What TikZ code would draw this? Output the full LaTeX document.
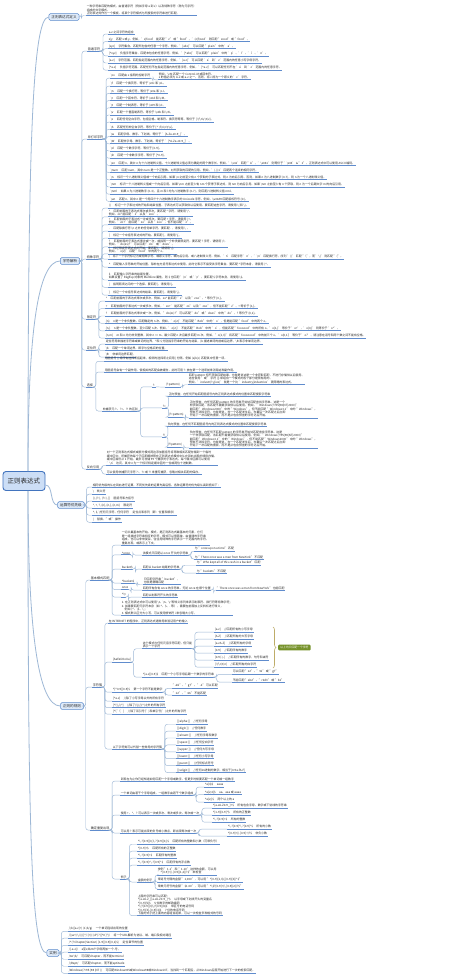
\documentclass[tikz,border=0pt]{standalone}
\usepackage{fontspec}
\setmainfont{Noto Sans CJK SC}
\usetikzlibrary{decorations.pathreplacing}

\definecolor{brcol}{RGB}{158,184,214}
\definecolor{ulcol}{RGB}{96,140,205}
\definecolor{tcol}{RGB}{40,40,40}
\definecolor{topfill}{RGB}{222,234,249}
\definecolor{topline}{RGB}{92,138,204}
\definecolor{rootfill}{RGB}{204,222,246}
\definecolor{rootline}{RGB}{66,116,190}
\definecolor{tagfill}{RGB}{118,146,42}
\definecolor{bracecol}{RGB}{190,172,104}

\newcommand\bs{\textbackslash}
\newcommand\ct{\textasciicircum}

\tikzset{
  branch/.style={draw=brcol, line width=0.45pt},
  elbow/.style={branch, rounded corners=2.5pt},
  trunk/.style={draw=brcol, line width=0.8pt},
  uline/.style={draw=ulcol, line width=0.65pt},
  leaf/.style={anchor=west, align=left, text=tcol, inner xsep=0.6pt, inner ysep=0.5pt,
    font=\fontsize{2.9}{3.4}\selectfont,
    append after command={(\tikzlastnode.south west) edge[uline] (\tikzlastnode.south east)}},
  sub/.style={leaf, font=\fontsize{3.1}{3.7}\selectfont},
  topic/.style={draw=topline, fill=topfill, line width=0.5pt, rounded corners=1.5pt,
    text=tcol, inner xsep=2.5pt, inner ysep=1.8pt, font=\fontsize{3.6}{4.2}\selectfont},
  rootbox/.style={draw=rootline, fill=rootfill, line width=0.9pt, rounded corners=3pt,
    text=tcol, minimum width=42pt, minimum height=19pt, font=\fontsize{6.5}{7.5}\selectfont},
  tag/.style={fill=tagfill, text=white, rounded corners=1pt, inner xsep=2.2pt, inner ysep=1.6pt,
    font=\fontsize{2.8}{3.3}\selectfont},
}

\begin{document}
\begin{tikzpicture}[x=1pt, y=1pt]
  % Page
  \fill[white] (0,0) rectangle (474,-978);
  \useasboundingbox (0,0) rectangle (474,-978);

  % Root and main topics
  \node[rootbox] (root) at (24,-481) {正则表达式};
  \node[topic] (def) at (64,-17) {正则表达式定义};
  \node[topic] (parse) at (70,-261) {字符解析};
  \node[topic] (prio) at (71,-505) {运算符优先级};
  \node[topic] (rules) at (72,-706) {正则的规则};
  \node[topic] (ex) at (53,-953) {实例};

  % Trunk lines
  \draw[trunk] ([xshift=4pt]root.north) .. controls +(0,330) and +(-16,0) .. (def.west);
  \draw[trunk] ([xshift=4pt]root.north) .. controls +(0,140) and +(-22,0) .. (parse.west);
  \draw[trunk] ([yshift=-4pt]root.east) .. controls +(8,0) and +(-8,0) .. (prio.west);
  \draw[trunk] ([xshift=4pt]root.south) .. controls +(0,-140) and +(-22,0) .. (rules.west);
  \draw[trunk] ([xshift=4pt]root.south) .. controls +(0,-330) and +(-16,0) .. (ex.west);

  % Definition
  \node[leaf] (defs) at (86,-10) {一种字符串匹配的模式，由普通字符（例如字母 a 到 z）以及特殊字符（称为元字符）\\组成的文字模式。\\正则表达式作为一个模板，将某个字符模式与所搜索的字符串进行匹配。};
  \draw[elbow] (def.east) -- ++(2,0) |- (defs.south west);

  % Character parsing
  \node[sub] (pc) at (87,-49) {普通字符};
  \node[sub] (np) at (87,-137) {非打印字符};
  \node[sub] (sc) at (86,-257) {特殊字符};
  \node[sub] (qu) at (86,-317) {限定符};
  \node[sub] (lo) at (86,-348) {定位符};
  \node[sub] (ch) at (86,-385) {选择};
  \node[sub] (br) at (86,-467) {反向引用};
  \foreach \n in {pc,np,sc,qu,lo,ch,br}
    \draw[elbow] (parse.east) -- ++(2,0) |- (\n.south west);

  % Plain characters
  \foreach \txt [count=\i] in {
    {a-z 之间字符的组合},
    {x|y \quad 匹配 x 或 y。例如，'z|food' 能匹配 "z" 或 "food"。'(z|f)ood' 则匹配 "zood" 或 "food"。},
    {[xyz] \quad 字符集合。匹配所包含的任意一个字符。例如，'[abc]' 可以匹配 "plain" 中的 'a'。},
    {[\ct xyz] \quad 负值字符集合。匹配未包含的任意字符。例如，'[\ct abc]' 可以匹配 "plain" 中的 'p'、'l'、'i'、'n'。},
    {[a-z] \quad 字符范围。匹配指定范围内的任意字符。例如，'[a-z]' 可以匹配 'a' 到 'z' 范围内的任意小写字母字符。},
    {[\ct a-z] \quad 负值字符范围。匹配任何不在指定范围内的任意字符。例如，'[\ct a-z]' 可以匹配任何不在 'a' 到 'z' 范围内的任意字符。}} {
    \node[leaf] (pc\i) at (108,{-32-7.2*(\i-1)}) {\txt};
    \draw[elbow] (pc.south east) -- ++(2,0) |- (pc\i.south west);
  }

  % Non-printing characters
  \node[leaf] (np0) at (110,-76) {\bs cx \quad 匹配由 x 指明的控制字符};
  \node[leaf] (np0d) at (158,-76) {例如，\bs cM 匹配一个 Control-M 或回车符。\\x 的值必须为 A-Z 或 a-z 之一。否则，将 c 视为一个原义的 'c' 字符。};
  \draw[elbow] (np.south east) -- ++(2,0) |- (np0.south west);
  \draw[elbow] (np0.south east) -- ++(2,0) |- (np0d.south west);
  \foreach \txt [count=\i] in {
    {\bs f \quad 匹配一个换页符。等价于 \bs x0c 和 \bs cL。},
    {\bs n \quad 匹配一个换行符。等价于 \bs x0a 和 \bs cJ。},
    {\bs r \quad 匹配一个回车符。等价于 \bs x0d 和 \bs cM。},
    {\bs t \quad 匹配一个制表符。等价于 \bs x09 和 \bs cI。},
    {\bs v \quad 匹配一个垂直制表符。等价于 \bs x0b 和 \bs cK。},
    {\bs s \quad 匹配任何空白字符，包括空格、制表符、换页符等等。等价于 [ \bs f\bs n\bs r\bs t\bs v]。},
    {\bs S \quad 匹配任何非空白字符。等价于 [\ct\ \bs f\bs n\bs r\bs t\bs v]。},
    {\bs w \quad 匹配字母、数字、下划线。等价于 '[A-Za-z0-9\_]'。},
    {\bs W \quad 匹配非字母、数字、下划线。等价于 '[\ct A-Za-z0-9\_]'。},
    {\bs d \quad 匹配一个数字字符。等价于 [0-9]。},
    {\bs D \quad 匹配一个非数字字符。等价于 [\ct 0-9]。},
    {\bs xn \quad 匹配 n，其中 n 为十六进制转义值。十六进制转义值必须为确定的两个数字长。例如，'\bs x41' 匹配 "A"。'\bs x041' 则等价于 '\bs x04' \& "1"。正则表达式中可以使用 ASCII 编码。},
    {\bs num \quad 匹配 num，其中 num 是一个正整数。对所获取的匹配的引用。例如，'(.)\bs 1' 匹配两个连续的相同字符。},
    {\bs n \quad 标识一个八进制转义值或一个向后引用。如果 \bs n 之前至少有 n 个获取的子表达式，则 n 为向后引用。否则，如果 n 为八进制数字 (0-7)，则 n 为一个八进制转义值。},
    {\bs nm \quad 标识一个八进制转义值或一个向后引用。如果 \bs nm 之前至少有 nm 个获得子表达式，则 nm 为向后引用。如果 \bs nm 之前至少有 n 个获取，则 n 为一个后跟文字 m 的向后引用。},
    {\bs nml \quad 如果 n 为八进制数字 (0-3)，且 m 和 l 均为八进制数字 (0-7)，则匹配八进制转义值 nml。},
    {\bs un \quad 匹配 n，其中 n 是一个用四个十六进制数字表示的 Unicode 字符。例如，\bs u00A9 匹配版权符号 (©)。}} {
    \node[leaf] (np\i) at (110,{-84-7.2*(\i-1)}) {\txt};
    \draw[elbow] (np.south east) -- ++(2,0) |- (np\i.south west);
  }

  % Special characters
  \foreach \i/\y/\txt in {
    1/206/{( ) \quad 标记一个子表达式的开始和结束位置。子表达式可以获取供以后使用。要匹配这些字符，请使用 \bs( 和 \bs)。},
    2/213/{* \quad 匹配前面的子表达式零次或多次。要匹配 * 字符，请使用 \bs*。\\例如，zo* 能匹配 "z" 以及 "zoo"。},
    3/221/{+ \quad 匹配前面的子表达式一次或多次。要匹配 + 字符，请使用 \bs+。\\例如，'zo+' 能匹配 "zo" 以及 "zoo"，但不能匹配 "z"。},
    4/229/{. \quad 匹配除换行符 \bs n 之外的任何单字符。要匹配 . ，请使用 \bs. 。},
    5/236/{[ \quad 标记一个中括号表达式的开始。要匹配 [，请使用 \bs[。},
    6/243/{? \quad 匹配前面的子表达式零次或一次，或指明一个非贪婪限定符。要匹配 ? 字符，请使用 \bs?。\\例如，"do(es)?" 可以匹配 "do" 或 "does"。},
    7/250/{\{ \quad 标记限定符表达式的开始。要匹配 \{，请使用 \bs\{。\\例如，'o\{2\}' 匹配 "food" 中的两个 o。},
    8/257/{\bs \quad 将下一个字符标记为或特殊字符、或原义字符、或向后引用、或八进制转义符。例如，'n' 匹配字符 'n'，'\bs n' 匹配换行符，序列 '\bs\bs' 匹配 "\bs"，而 '\bs(' 则匹配 "("。},
    9/265/{\ct \quad 匹配输入字符串的开始位置，除非在方括号表达式中使用，此时它表示不接受该字符集合。要匹配 \ct 字符本身，请使用 \bs\ct。},
    10/276/{\$ \quad 匹配输入字符串的结尾位置。\\如果设置了 RegExp 对象的 Multiline 属性，则 \$ 也匹配 '\bs n' 或 '\bs r'。要匹配 \$ 字符本身，请使用 \bs\$。},
    11/285/{| \quad 指明两项之间的一个选择。要匹配 |，请使用 \bs|。},
    12/293/{] \quad 标记一个中括号表达式的结束。要匹配 ]，请使用 \bs]。}} {
    \node[leaf] (sc\i) at (108,-\y) {\txt};
    \draw[elbow] (sc.south east) -- ++(2,0) |- (sc\i.south west);
  }

  % Quantifiers
  \foreach \txt [count=\i] in {
    {* \quad 匹配前面的子表达式零次或多次。例如，zo* 能匹配 "z" 以及 "zoo"。* 等价于 \{0,\}。},
    {+ \quad 匹配前面的子表达式一次或多次。例如，'zo+' 能匹配 "zo" 以及 "zoo"，但不能匹配 "z"。+ 等价于 \{1,\}。},
    {? \quad 匹配前面的子表达式零次或一次。例如，"do(es)?" 可以匹配 "do" 或 "does" 中的 "do"。? 等价于 \{0,1\}。},
    {\{n\} \quad n 是一个非负整数。匹配确定的 n 次。例如，'o\{2\}' 不能匹配 "Bob" 中的 'o'，但是能匹配 "food" 中的两个 o。},
    {\{n,\} \quad n 是一个非负整数。至少匹配 n 次。例如，'o\{2,\}' 不能匹配 "Bob" 中的 'o'，但能匹配 "foooood" 中的所有 o。'o\{1,\}' 等价于 'o+'，'o\{0,\}' 则等价于 'o*'。},
    {\{n,m\} \quad m 和 n 均为非负整数，其中 n <= m。最少匹配 n 次且最多匹配 m 次。例如，"o\{1,3\}" 将匹配 "fooooood" 中的前三个 o。'o\{0,1\}' 等价于 'o?'。请注意在逗号和两个数之间不能有空格。}} {
    \node[leaf] (qu\i) at (105,{-299-7.4*(\i-1)}) {\txt};
    \draw[elbow] (qu.south east) -- ++(2,0) |- (qu\i.south west);
  }

  % Anchors
  \foreach \txt [count=\i] in {
    {定位符用来描述字符串或单词的边界，\ct 和 \$ 分别指字符串的开始与结束，\bs b 描述单词的前或后边界，\bs B 表示非单词边界。},
    {\bs b \quad 匹配一个单词边界，即字与空格间的位置。},
    {\bs B \quad 非单词边界匹配。}} {
    \node[leaf] (lo\i) at (105,{-342-6.5*(\i-1)}) {\txt};
    \draw[elbow] (lo.south east) -- ++(2,0) |- (lo\i.south west);
  }

  % Alternation
  \node[leaf] (ch1) at (104,-359) {用圆括号 () 将所有选择项括起来，相邻的选择项之间用 | 分隔，例如 (a|b|c) 匹配其中任意一项。};
  \node[leaf] (ch2) at (104,-370) {用圆括号会有一个副作用，使相关的匹配会被缓存，此时可用 ?: 放在第一个选项前来消除这种副作用。};
  \node[leaf] (nc) at (102,-409) {非捕获元 ?:、?=、?! 的区别};
  \foreach \n in {ch1,ch2,nc}
    \draw[elbow] (ch.south east) -- ++(2,0) |- (\n.south west);

  \node[leaf] (nc1) at (152,-385) {?:};
  \node[leaf] (nc2) at (162,-406) {?=};
  \node[leaf] (nc3) at (162,-435) {?!};
  \foreach \n in {nc1,nc2,nc3}
    \draw[elbow] (nc.south east) -- ++(2,0) |- (\n.south west);

  \node[leaf] (nc1p) at (165,-385) {(?:pattern)};
  \node[leaf] (nc1d) at (188,-379) {匹配 pattern 但不获取匹配结果，也就是说这是一个非获取匹配，不进行存储供以后使用。\\这在使用 "或" 字符 (|) 来组合一个模式的各个部分是很有用的。\\例如，'industr(?:y|ies)' 就是一个比 'industry|industries' 更简略的表达式。};
  \draw[elbow] (nc1.south east) -- (nc1p.south west);
  \draw[elbow] (nc1p.south east) -- ++(2,0) |- (nc1d.south west);

  \node[leaf] (nc2a) at (168,-394) {正向预查，在任何开始匹配圆括号内的正则表达式模式的位置来匹配搜索字符串};
  \node[leaf] (nc2p) at (168,-415) {(?=pattern)};
  \node[leaf] (nc2d) at (189,-409) {正向预查，在任何匹配 pattern 的字符串开始处匹配查找字符串。这是一个\\非获取匹配，该匹配不需要获取供以后使用。例如，"Windows(?=95|98|NT|2000)"\\能匹配 "Windows2000" 中的 "Windows"，但不能匹配 "Windows3.1" 中的 "Windows"。\\预查不消耗字符，也就是说，在一个匹配发生后，在最后一次匹配之后立即\\开始下一次匹配的搜索，而不是从包含预查的字符之后开始。};
  \foreach \n in {nc2a,nc2p}
    \draw[elbow] (nc2.south east) -- ++(2,0) |- (\n.south west);
  \draw[elbow] (nc2p.south east) -- ++(1,0) |- (nc2d.south west);

  \node[leaf] (nc3a) at (167,-424) {负向预查，在任何不匹配圆括号内的正则表达式模式的位置来匹配搜索字符串};
  \node[leaf] (nc3p) at (167,-445) {(?!pattern)};
  \node[leaf] (nc3d) at (189,-439) {负向预查，在任何不匹配 pattern 的字符串开始处匹配查找字符串。这是\\一个非获取匹配，该匹配不需要获取供以后使用。例如，"Windows(?!95|98|NT|2000)"\\能匹配 "Windows3.1" 中的 "Windows"，但不能匹配 "Windows2000" 中的 "Windows"。\\预查不消耗字符，也就是说，在一个匹配发生后，在最后一次匹配之后立即\\开始下一次匹配的搜索，而不是从包含预查的字符之后开始。};
  \foreach \n in {nc3a,nc3p}
    \draw[elbow] (nc3.south east) -- ++(2,0) |- (\n.south west);
  \draw[elbow] (nc3p.south east) -- ++(1,0) |- (nc3d.south west);

  % Back references
  \node[leaf] (br1) at (106,-458) {对一个正则表达式模式或部分模式两边添加圆括号将导致相关匹配存储到一个临时\\缓冲区中，所捕获的每个子匹配都按照在正则表达式模式中从左到右出现的顺序存储。\\缓冲区编号从 1 开始，最多可存储 99 个捕获的子表达式。每个缓冲区都可以使用\\'\bs n' 访问，其中 n 为一个标识特定缓冲区的一位或两位十进制数。};
  \node[leaf] (br2) at (106,-472) {可以使用非捕获元字符 ?:、?= 或 ?! 来重写捕获，忽略对相关匹配的保存。};
  \foreach \n in {br1,br2}
    \draw[elbow] (br.south east) -- ++(2,0) |- (\n.south west);

  % Operator precedence
  \foreach \txt [count=\i] in {
    {相同优先级的从左到右进行运算，不同优先级的运算先高后低。各种运算符的优先级从高到低如下：},
    {\bs \quad 转义符},
    {(), (?:), (?=), [] \quad 圆括号和方括号},
    {*, +, ?, \{n\}, \{n,\}, \{n,m\} \quad 限定符},
    {\ct, \$, \bs 任何元字符、任何字符 \quad 定位点和序列（即：位置和顺序）},
    {| \quad 替换，"或" 操作}} {
    \node[leaf] (pr\i) at (92,{-485-7*(\i-1)}) {\txt};
    \draw[elbow] (prio.east) -- ++(2,0) |- (pr\i.south west);
  }

  % Rules
  \node[sub] (bm) at (90,-578) {基本模式匹配};
  \node[sub] (cc) at (92,-685) {字符簇};
  \node[sub] (rp) at (90,-828) {确定重复出现};
  \foreach \n in {bm,cc,rp}
    \draw[elbow] (rules.east) -- ++(2,0) |- (\n.south west);

  % Basic patterns
  \node[leaf] (bm0) at (121,-538) {一切从最基本的开始。模式，是正则表达式最基本的元素，它们\\是一组描述字符串特征的字符。模式可以很简单，由普通的字符串\\组成，也可以非常复杂，往往用特殊的字符表示一个范围内的字符、\\重复出现，或表示上下文。};
  \node[leaf] (bm1) at (121,-553) {\ct once};
  \node[leaf] (bm1d) at (142,-553) {该模式只匹配以 once 开头的字符串};
  \node[leaf] (bm1a) at (194,-549) {与 "once upon a time" 匹配};
  \node[leaf] (bm1b) at (194,-557) {与 "There once was a man from NewYork" 不匹配};
  \node[leaf] (bm2) at (121,-567) {bucket\$};
  \node[leaf] (bm2d) at (142,-567) {匹配以 bucket 结尾的字符串};
  \node[leaf] (bm2a) at (196,-563) {与 "Who kept all of this cash in a bucket" 匹配};
  \node[leaf] (bm2b) at (196,-571) {与 "buckets" 不匹配};
  \node[leaf] (bm3) at (121,-581) {\ct bucket\$};
  \node[leaf] (bm3d) at (143,-581) {只匹配字符串 "bucket"，\\也就是精确匹配};
  \node[leaf] (bm4) at (121,-588) {once};
  \node[leaf] (bm4d) at (142,-588) {匹配所有含有 once 的字符串，无论 once 在哪个位置};
  \node[leaf] (bm4a) at (216,-588) {"There once was a man from NewYork" 也能匹配};
  \node[leaf] (bm5) at (121,-595) {\ct\bs t};
  \node[leaf] (bm5d) at (142,-595) {匹配以制表符开头的字符串};
  \node[leaf] (bm6) at (121,-608) {1. 在正则表达式中可以使用 \bs t、\bs n、\bs r 等转义序列来表示制表符、换行符等特殊字符；\\2. 如果要匹配元字符本身（如 \ct、\$、. 等），需要在前面加上反斜杠进行转义，\\\quad 例如 \bs\ct、\bs\$、\bs.；\\3. 模式默认区分大小写，可以使用修饰符 i 来忽略大小写。};
  \foreach \n in {bm0,bm1,bm2,bm3,bm4,bm5,bm6}
    \draw[elbow] (bm.south east) -- ++(2,0) |- (\n.south west);
  \foreach \a/\b in {bm1/bm1d,bm2/bm2d,bm3/bm3d,bm4/bm4d,bm5/bm5d,bm4d/bm4a}
    \draw[elbow] (\a.south east) -- ++(2,0) |- (\b.south west);
  \foreach \n in {bm1a,bm1b}
    \draw[elbow] (bm1d.south east) -- ++(2,0) |- (\n.south west);
  \foreach \n in {bm2a,bm2b}
    \draw[elbow] (bm2d.south east) -- ++(2,0) |- (\n.south west);

  % Character clusters
  \node[leaf] (cc0) at (108,-621) {在 INTERNET 的程序中，正则表达式通常用来验证用户的输入};
  \node[leaf] (cc1) at (112,-660) {[AaEeIiOoUu]};
  \node[leaf] (cc1d) at (142,-645) {这个模式与任何元音字符匹配，但只能\\表示一个字符};
  \node[leaf] (cc1e) at (142,-675) {\ct[a-z][0-9]\$ \quad 匹配一个小写字母后跟一个数字的字符串};
  \node[leaf] (cc1e1) at (232,-672) {可以匹配 "z2"、"t6" 或 "g7"};
  \node[leaf] (cc1e2) at (232,-680) {不能匹配 "ab2"、"r2d3" 或 "b1"};
  \node[leaf] (cc2) at (112,-690) {\ct[\ct 0-9][0-9]\$ \quad 第一个字符不能是数字};
  \node[leaf] (cc2a) at (172,-686) {"\&5"、"g7"、"-2" 可以匹配};
  \node[leaf] (cc2b) at (172,-693) {"12"、"66" 不能匹配};
  \node[leaf] (cc3) at (112,-699) {[\ct a-z] \quad //除了小写字母以外的所有字符};
  \node[leaf] (cc4) at (112,-705.5) {[\ct\bs\bs\bs/\bs\ct] \quad //除了(\bs)(/)(\ct)之外的所有字符};
  \node[leaf] (cc5) at (112,-712) {[\ct\bs"\bs'] \quad //除了双引号(")和单引号(')之外的所有字符};
  \node[leaf] (cc6) at (112,-747) {以下字符类可以代替一些常用的字符簇};
  \foreach \n in {cc0,cc1,cc2,cc3,cc4,cc5,cc6}
    \draw[elbow] (cc.south east) -- ++(2,0) |- (\n.south west);
  \foreach \n in {cc1d,cc1e}
    \draw[elbow] (cc1.south east) -- ++(2,0) |- (\n.south west);
  \foreach \n in {cc1e1,cc1e2}
    \draw[elbow] (cc1e.south east) -- ++(2,0) |- (\n.south west);
  \foreach \n in {cc2a,cc2b}
    \draw[elbow] (cc2.south east) -- ++(2,0) |- (\n.south west);

  \foreach \txt [count=\i] in {
    {[a-z] \quad //匹配所有的小写字母},
    {[A-Z] \quad //匹配所有的大写字母},
    {[a-zA-Z] \quad //匹配所有的字母},
    {[0-9] \quad //匹配所有的数字},
    {[0-9\bs.\bs-] \quad //匹配所有的数字，句号和减号},
    {[ \bs f\bs r\bs t\bs n] \quad //匹配所有的白字符}} {
    \node[leaf] (cs\i) at (214,{-630-7*(\i-1)}) {\txt};
    \draw[elbow] (cc1d.south east) -- ++(2,0) |- (cs\i.south west);
  }
  \coordinate (bt) at (273,-627);
  \coordinate (bb) at (273,-668);
  \draw[bracecol, line width=0.6pt, decorate, decoration={brace, amplitude=3pt}] (bt) -- (bb);
  \node[tag, anchor=west] (one) at (278,-647.5) {以上均只匹配一个字符};

  \foreach \txt [count=\i] in {
    {[[:alpha:]] \quad //任何字母},
    {[[:digit:]] \quad //任何数字},
    {[[:alnum:]] \quad //任何字母和数字},
    {[[:space:]] \quad //任何空白字符},
    {[[:upper:]] \quad //任何大写字母},
    {[[:lower:]] \quad //任何小写字母},
    {[[:punct:]] \quad //任何标点符号},
    {[[:xdigit:]] \quad //任何16进制的数字，相当于[0-9a-fA-F]}} {
    \node[leaf] (pk\i) at (176,{-722-6.9*(\i-1)}) {\txt};
    \draw[elbow] (cc6.south east) -- ++(2,0) |- (pk\i.south west);
  }

  % Repetition
  \node[leaf] (rp0) at (120,-779) {到现在为止你已经知道如何匹配一个字母或数字，但更多时候要匹配一个单词或一组数字};
  \node[leaf] (rp1) at (120,-793) {一个单词由若干个字母组成，一组数字由若干个数字组成};
  \node[leaf] (rp2) at (120,-813) {使用 +、*、? 可以表示一次或多次、零次或多次、零次或一次};
  \node[leaf] (rp3) at (120,-831) {可以用 ? 表示可能出现的负号或小数点，即出现零次或一次};
  \node[leaf] (rp4) at (120,-877) {例子};
  \foreach \n in {rp0,rp1,rp2,rp3,rp4}
    \draw[elbow] (rp.south east) -- ++(2,0) |- (\n.south west);

  \foreach \txt [count=\i] in {
    {\ct a\{4\}\$ \quad aaaa},
    {\ct a\{2,4\}\$ \quad aa、aaa 或 aaaa},
    {\ct a\{2,\}\$ \quad 两个以上的 a}} {
    \node[leaf] (ra\i) at (204,{-785-7.5*(\i-1)}) {\txt};
    \draw[elbow] (rp1.south east) -- ++(2,0) |- (ra\i.south west);
  }
  \foreach \txt [count=\i] in {
    {\ct[a-zA-Z0-9\_]+\$ \quad 所有包含字母、数字或下划线的字符串},
    {\ct[1-9][0-9]*\$ \quad 所有的正整数},
    {\ct\bs-?[0-9]+\$ \quad 所有的整数}} {
    \node[leaf] (rb\i) at (212,{-806-7*(\i-1)}) {\txt};
    \draw[elbow] (rp2.south east) -- ++(2,0) |- (rb\i.south west);
  }
  \foreach \txt [count=\i] in {
    {\ct\bs-?[0-9]*\bs.?[0-9]*\$ \quad 所有的小数},
    {\ct[0-9]+(\bs.[0-9]+)?\$ \quad 非负小数}} {
    \node[leaf] (rc\i) at (227,{-827-7*(\i-1)}) {\txt};
    \draw[elbow] (rp3.south east) -- ++(2,0) |- (rc\i.south west);
  }

  % Worked examples
  \node[leaf] (rp4a) at (137,-842) {\ct\bs-?[0-9]\{0,\}\bs.?[0-9]\{0,\}\$ \quad 匹配所有的整数和小数（可带负号）};
  \node[leaf] (rp4b) at (137,-849) {\ct[0-9]+\$ \quad 匹配所有的正整数};
  \node[leaf] (rp4c) at (137,-856) {\ct\bs-?[0-9]+\$ \quad 匹配所有的整数};
  \node[leaf] (rp4d) at (137,-863) {\ct\bs-?[0-9]+\bs.?[0-9]*\$ \quad 匹配所有的浮点数};
  \node[leaf] (rp4e) at (137,-880) {金额的例子};
  \node[leaf] (rp4f) at (137,-905) {上面的字符串可以匹配：\\\ct[a-zA-Z\_][a-zA-Z0-9\_]*\$ \quad 以字母或下划线开头的变量名\\\ct[0-9]\{5\}\$ \quad 5 位数字的邮政编码\\\ct\bs(?[0-9]\{3\}\bs)?[0-9]\{8\}\$ \quad 带区号的电话号码\\\ct[0-9]\{3\}-[0-9]\{4\}\$ \quad 7 位的电话号码\\下面的式子把上面的内容组合起来，可以一次检查多种格式的号码};
  \foreach \n in {rp4a,rp4b,rp4c,rp4d,rp4e,rp4f}
    \draw[elbow] (rp4.south east) -- ++(2,0) |- (\n.south west);
  \node[leaf] (rp4e1) at (157,-871) {举例 "1.1" 和 "1.10" 这样的金额，可以用\\"\ct[0-9]+(\bs.[0-9]\{1,2\})?\$" 来检查};
  \node[leaf] (rp4e2) at (157,-880) {带逗号分隔的金额 "1,000"，可以用 "\ct[0-9]\{1,3\}(,[0-9]\{3\})*\$"};
  \node[leaf] (rp4e3) at (157,-887) {带美元符号的金额 "\$1.00"，可以用 "\ct\bs\$?[0-9]+(\bs.[0-9]\{2\})?\$"};
  \foreach \n in {rp4e1,rp4e2,rp4e3}
    \draw[elbow] (rp4e.south east) -- ++(2,0) |- (\n.south west);

  % Examples
  \foreach \txt [count=\i] in {
    {/\bs b([a-z]+) \bs 1\bs b/gi \quad 一个单词连续出现的位置},
    {/(\bs w+):\bs/\bs/([\ct/:]+)(:\bs d*)?([\ct\# ]*)/ \quad 将一个URL解析为协议、域、端口及相对路径},
    {/\ct(?:Chapter|Section) [1-9][0-9]\{0,1\}\$/ \quad 定位章节的位置},
    {/[-a-z]/ \quad a至z共26个字母再加一个-号。},
    {/ter\bs b/ \quad 可匹配chapter，而不能terminal},
    {/\bs Bapt/ \quad 可匹配chapter，而不能aptitude},
    {/Windows(?=95 |98 |NT )/ \quad 可匹配Windows95或Windows98或WindowsNT，当找到一个匹配后，从Windows后面开始进行下一次的检索匹配。}} {
    \node[leaf] (ex\i) at (68,{-929-7*(\i-1)}) {\txt};
    \draw[elbow] (ex.east) -- ++(2,0) |- (ex\i.south west);
  }
\end{tikzpicture}
\end{document}
